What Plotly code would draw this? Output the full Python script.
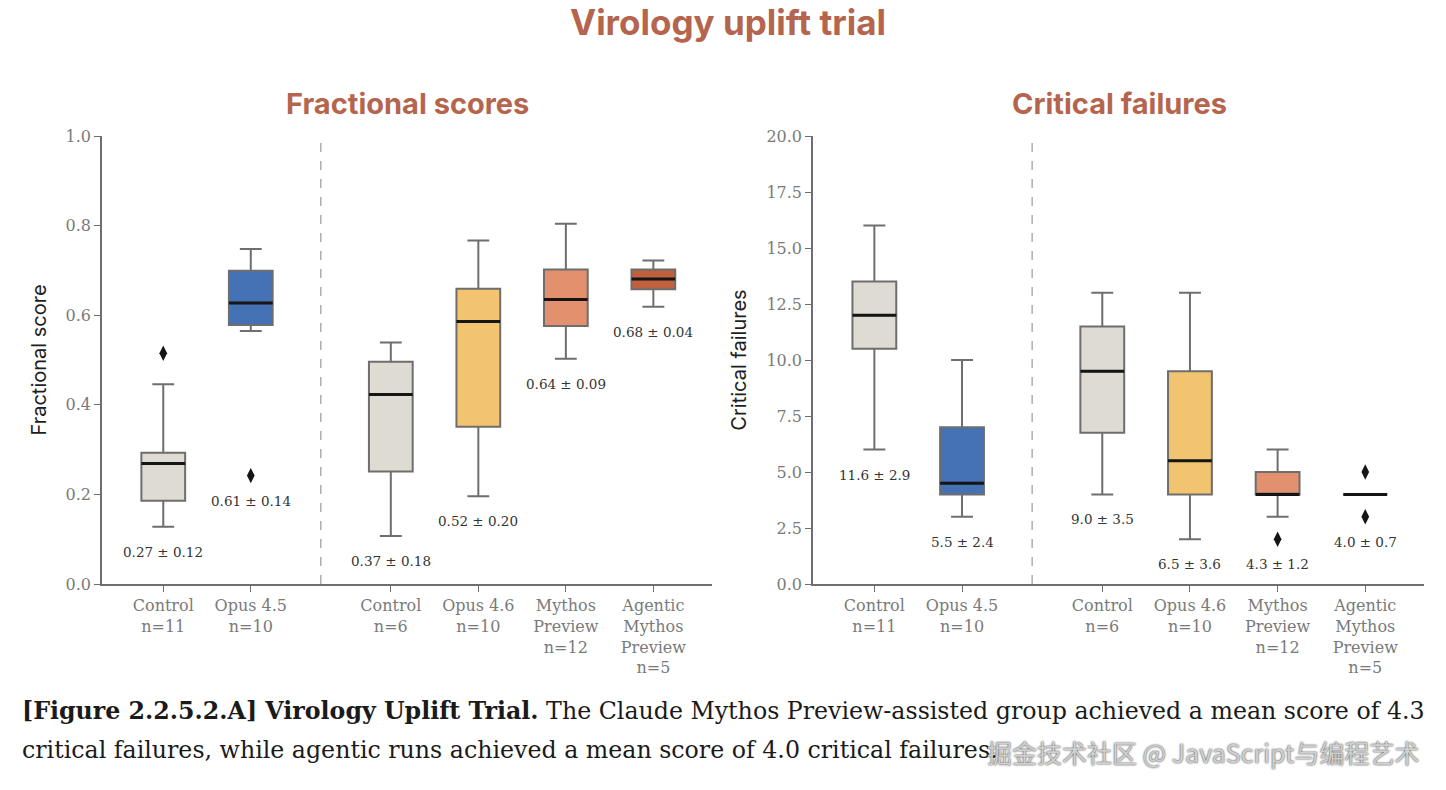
import plotly.graph_objects as go

# ---------------- data ----------------
groups = ["Control<br>n=11", "Opus 4.5<br>n=10", "Control<br>n=6", "Opus 4.6<br>n=10",
          "Mythos<br>Preview<br>n=12", "Agentic<br>Mythos<br>Preview<br>n=5"]
colors = ["#DEDBD3", "#4571B5", "#DEDBD3", "#F2C46F", "#E3906F", "#C0603F"]

frac_q1 = [0.186, 0.578, 0.251, 0.351, 0.576, 0.658]
frac_med = [0.269, 0.627, 0.423, 0.586, 0.635, 0.681]
frac_q3 = [0.293, 0.699, 0.496, 0.659, 0.702, 0.702]
frac_lo = [0.128, 0.565, 0.107, 0.196, 0.503, 0.619]
frac_hi = [0.446, 0.748, 0.539, 0.767, 0.804, 0.722]
frac_out = [[0.515], [0.242], [], [], [], []]
frac_mean = [0.27, 0.61, 0.37, 0.52, 0.64, 0.68]
frac_sd = [0.12, 0.14, 0.18, 0.20, 0.09, 0.04]

crit_q1 = [10.5, 4.0, 6.75, 4.0, 4.0, 4.0]
crit_med = [12.0, 4.5, 9.5, 5.5, 4.0, 4.0]
crit_q3 = [13.5, 7.0, 11.5, 9.5, 5.0, 4.0]
crit_lo = [6.0, 3.0, 4.0, 2.0, 3.0, 4.0]
crit_hi = [16.0, 10.0, 13.0, 13.0, 6.0, 4.0]
crit_out = [[], [], [], [], [2.0], [5.0, 3.0]]
crit_mean = [11.6, 5.5, 9.0, 6.5, 4.3, 4.0]
crit_sd = [2.9, 2.4, 3.5, 3.6, 1.2, 0.7]

# ---------------- layout constants ----------------
positions = [0, 1, 2.6, 3.6, 4.6, 5.6]
separator = 1.8
box_w = 0.5
TITLE_C = "#B5654E"
AXIS_C = "#6E6E6E"
SERIF = "DejaVu Serif"
SANS = "Inter"

fig = go.Figure()


def add_panel(xref, yref, q1, med, q3, lo, hi, outs, means, sds, fmt):
    for i, p in enumerate(positions):
        fig.add_trace(go.Box(
            x=[p], q1=[q1[i]], median=[med[i]], q3=[q3[i]],
            lowerfence=[lo[i]], upperfence=[hi[i]],
            width=box_w, whiskerwidth=0.5, fillcolor=colors[i],
            line=dict(color=AXIS_C, width=2), boxpoints=False,
            xaxis=xref, yaxis=yref, showlegend=False, hoverinfo="skip"))
    mx, my = [], []
    for i, p in enumerate(positions):
        mx += [p - box_w / 2, p + box_w / 2, None]
        my += [med[i], med[i], None]
    fig.add_trace(go.Scatter(x=mx, y=my, mode="lines",
                             line=dict(color="#151515", width=3),
                             xaxis=xref, yaxis=yref, showlegend=False, hoverinfo="skip"))
    ox, oy = [], []
    for i, p in enumerate(positions):
        for v in outs[i]:
            ox.append(p)
            oy.append(v)
    fig.add_trace(go.Scatter(x=ox, y=oy, mode="markers",
                             marker=dict(symbol="diamond-tall", size=11, color="#151515"),
                             xaxis=xref, yaxis=yref, showlegend=False, hoverinfo="skip"))
    for i, p in enumerate(positions):
        low = min([lo[i]] + outs[i])
        fig.add_annotation(x=p, y=low, xref=xref, yref=yref, yshift=-25, yanchor="middle",
                           text=f"{means[i]:{fmt}} ± {sds[i]:{fmt}}", showarrow=False,
                           font=dict(family=SERIF, size=13.5, color="#333333"))
    fig.add_shape(type="line", x0=separator, x1=separator, y0=0, y1=1,
                  xref=xref, yref=f"{yref} domain",
                  line=dict(color="#A8A8A8", width=1.4, dash="dash"))


add_panel("x", "y", frac_q1, frac_med, frac_q3, frac_lo, frac_hi, frac_out,
          frac_mean, frac_sd, ".2f")
add_panel("x2", "y2", crit_q1, crit_med, crit_q3, crit_lo, crit_hi, crit_out,
          crit_mean, crit_sd, ".1f")

W, H = 1446, 790
ydom = [1 - 584 / H, 1 - 136 / H]
xcommon = dict(range=[-0.7, 6.27], tickvals=positions, ticktext=groups, automargin=False,
               showline=True, linecolor=AXIS_C, linewidth=1.6, ticks="outside",
               ticklen=6, tickcolor=AXIS_C, tickwidth=1.4, showgrid=False, zeroline=False,
               tickfont=dict(family=SERIF, size=16, color="#7A7A7A"), tickangle=0)
ycommon = dict(domain=ydom, showline=True, linecolor=AXIS_C, linewidth=1.6, ticks="outside",
               ticklen=6, tickcolor=AXIS_C, tickwidth=1.4, showgrid=False, zeroline=False,
               automargin=False,
               tickfont=dict(family=SERIF, size=16, color="#7A7A7A"), tickformat=".1f")

fig.update_layout(
    width=W, height=H, margin=dict(l=0, r=0, t=0, b=0, pad=0),
    paper_bgcolor="white", plot_bgcolor="white",
    xaxis=dict(domain=[102 / W, 712 / W], anchor="y", **xcommon),
    xaxis2=dict(domain=[813 / W, 1424 / W], anchor="y2", **xcommon),
    yaxis=dict(anchor="x", range=[0, 1], tickvals=[0, 0.2, 0.4, 0.6, 0.8, 1.0],
               title=dict(text="Fractional score", font=dict(family=SANS, size=20, color="#1E1E1E"),
                          standoff=14), **ycommon),
    yaxis2=dict(anchor="x2", range=[0, 20], tickvals=[0, 2.5, 5, 7.5, 10, 12.5, 15, 17.5, 20],
                title=dict(text="Critical failures", font=dict(family=SANS, size=20, color="#1E1E1E"),
                           standoff=14), **ycommon),
)

# titles
fig.add_annotation(text="<b>Virology uplift trial</b>", x=728 / W, y=1 - 22 / H, xref="paper", yref="paper",
                   xanchor="center", yanchor="middle", showarrow=False,
                   font=dict(family=SANS, size=35, color=TITLE_C))
fig.add_annotation(text="<b>Fractional scores</b>", x=407 / W, y=1 - 103 / H, xref="paper", yref="paper",
                   xanchor="center", yanchor="middle", showarrow=False,
                   font=dict(family=SANS, size=29, color=TITLE_C))
fig.add_annotation(text="<b>Critical failures</b>", x=1119 / W, y=1 - 103 / H, xref="paper", yref="paper",
                   xanchor="center", yanchor="middle", showarrow=False,
                   font=dict(family=SANS, size=29, color=TITLE_C))

# caption
fig.add_annotation(
    text="<b>[Figure 2.2.5.2.A] Virology Uplift Trial.</b> The Claude Mythos Preview-assisted group achieved a mean score of 4.3",
    x=20 / W, y=1 - 711 / H, xref="paper", yref="paper", xanchor="left", yanchor="middle", showarrow=False,
    font=dict(family=SERIF, size=23.7, color="#1A1A1A"))
fig.add_annotation(
    text="critical failures, while agentic runs achieved a mean score of 4.0 critical failures.",
    x=20 / W, y=1 - 750 / H, xref="paper", yref="paper", xanchor="left", yanchor="middle", showarrow=False,
    font=dict(family=SERIF, size=23.7, color="#1A1A1A"))
fig.add_annotation(
    text="掘金技术社区 @ JavaScript与编程艺术",
    x=1422 / W, y=1 - 752 / H, xref="paper", yref="paper", xanchor="right", yanchor="middle", showarrow=False,
    font=dict(family="Noto Sans CJK SC", size=25, color="#D0D0D0", shadow="0px 0px 2px #222"))

fig.write_html("out.html")
